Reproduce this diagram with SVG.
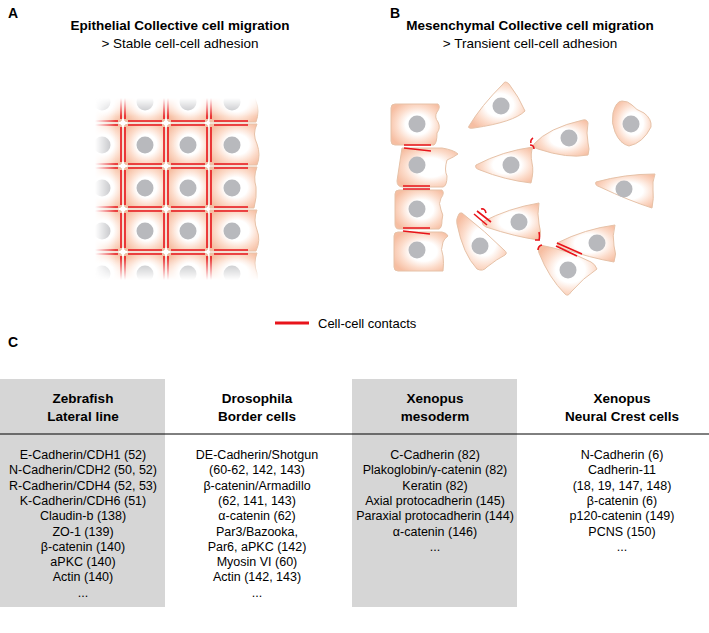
<svg xmlns="http://www.w3.org/2000/svg" width="709" height="633" viewBox="0 0 709 633">
<style>
text{font-family:"Liberation Sans",Arial,sans-serif;fill:#000}
.t{font-size:13.5px;font-weight:bold;text-anchor:middle}
.s{font-size:13.5px;text-anchor:middle}
.h{font-size:13.5px;font-weight:bold;text-anchor:middle}
.i{font-size:12.5px;text-anchor:middle}
.lab{font-size:14px;font-weight:bold}
.cell{fill:url(#cg);stroke:#e6c2a8;stroke-width:1}
.nuc{fill:#b8b9bd}
.ct{stroke:#e8141b;stroke-width:1.6;fill:none}
</style>
<defs>
<radialGradient id="cg" cx="0.55" cy="0.5" r="0.62">
<stop offset="0" stop-color="#fff"/><stop offset="0.4" stop-color="#fff"/><stop offset="0.7" stop-color="#fcdccb"/><stop offset="1" stop-color="#f6bea2"/>
</radialGradient>
<linearGradient id="fx" x1="0" x2="1" y1="0" y2="0"><stop offset="0" stop-color="#000"/><stop offset="0.12" stop-color="#fff"/></linearGradient>
<linearGradient id="fy" x1="0" x2="0" y1="0" y2="1"><stop offset="0" stop-color="#000"/><stop offset="0.1" stop-color="#fff"/><stop offset="0.88" stop-color="#fff"/><stop offset="1" stop-color="#000"/></linearGradient>
<mask id="m1" maskUnits="userSpaceOnUse" x="90" y="95" width="180" height="190"><rect x="95" y="98" width="170" height="182" fill="url(#fy)"/></mask>
<mask id="m2" maskUnits="userSpaceOnUse" x="90" y="95" width="180" height="190"><rect x="95" y="98" width="170" height="182" fill="url(#fx)"/></mask>
</defs>
<rect width="709" height="633" fill="#fff"/>
<text x="8" y="18" class="lab">A</text>
<text x="390" y="18" class="lab">B</text>
<text x="8" y="347" class="lab">C</text>
<text x="180" y="30" class="t">Epithelial Collective cell migration</text>
<text x="180" y="48" class="s">&gt; Stable cell-cell adhesion</text>
<text x="530" y="30" class="t">Mesenchymal Collective cell migration</text>
<text x="530" y="48" class="s">&gt; Transient cell-cell adhesion</text>
<g id="gridA" mask="url(#m1)"><g mask="url(#m2)">
<g id="cellsA">
<rect class="cell" x="80" y="81" width="42" height="41" rx="4"/><rect class="cell" x="124" y="81" width="41" height="41" rx="4"/><rect class="cell" x="167" y="81" width="41" height="41" rx="4"/><path class="cell" d="M210 81h46q-4 10 0 20q4 10 0 21h-46z"/>
<rect class="cell" x="80" y="124" width="42" height="41" rx="4"/><rect class="cell" x="124" y="124" width="41" height="41" rx="4"/><rect class="cell" x="167" y="124" width="41" height="41" rx="4"/><path class="cell" d="M210 124h47q-5 10 0 20q4 11 0 21h-47z"/>
<rect class="cell" x="80" y="167" width="42" height="41" rx="4"/><rect class="cell" x="124" y="167" width="41" height="41" rx="4"/><rect class="cell" x="167" y="167" width="41" height="41" rx="4"/><path class="cell" d="M210 167h47q-4 10 -1 20q1 10 -2 21h-44z"/>
<rect class="cell" x="80" y="210" width="42" height="41" rx="4"/><rect class="cell" x="124" y="210" width="41" height="41" rx="4"/><rect class="cell" x="167" y="210" width="41" height="41" rx="4"/><path class="cell" d="M210 210h47q-4 10 0 20q4 10 -1 21h-46z"/>
<rect class="cell" x="80" y="253" width="42" height="41" rx="4"/><rect class="cell" x="124" y="253" width="41" height="41" rx="4"/><rect class="cell" x="167" y="253" width="41" height="41" rx="4"/><path class="cell" d="M210 253h47q-4 10 0 20q2 10 -1 21h-46z"/>
</g>
<g id="nucA">
<circle class="nuc" cx="102" cy="102" r="8.5"/><circle class="nuc" cx="145" cy="102" r="8.5"/><circle class="nuc" cx="188" cy="102" r="8.5"/><circle class="nuc" cx="232" cy="102" r="8.5"/>
<circle class="nuc" cx="102" cy="145" r="8.5"/><circle class="nuc" cx="145" cy="145" r="8.5"/><circle class="nuc" cx="188" cy="145" r="8.5"/><circle class="nuc" cx="232" cy="145" r="8.5"/>
<circle class="nuc" cx="102" cy="188" r="8.5"/><circle class="nuc" cx="145" cy="188" r="8.5"/><circle class="nuc" cx="188" cy="188" r="8.5"/><circle class="nuc" cx="232" cy="188" r="8.5"/>
<circle class="nuc" cx="102" cy="231" r="8.5"/><circle class="nuc" cx="145" cy="231" r="8.5"/><circle class="nuc" cx="188" cy="231" r="8.5"/><circle class="nuc" cx="232" cy="231" r="8.5"/>
<circle class="nuc" cx="102" cy="274" r="8.5"/><circle class="nuc" cx="145" cy="274" r="8.5"/><circle class="nuc" cx="188" cy="274" r="8.5"/><circle class="nuc" cx="232" cy="274" r="8.5"/>
</g>
<g id="contactsA" class="ct">
<path d="M121 84v35M125 84v35M164 84v35M168 84v35M207 84v35M211 84v35"/>
<path d="M121 127v35M125 127v35M164 127v35M168 127v35M207 127v35M211 127v35"/>
<path d="M121 170v35M125 170v35M164 170v35M168 170v35M207 170v35M211 170v35"/>
<path d="M121 213v35M125 213v35M164 213v35M168 213v35M207 213v35M211 213v35"/>
<path d="M121 256v35M125 256v35M164 256v35M168 256v35M207 256v35M211 256v35"/>
<path d="M84 121h34M84 125h34M128 121h34M128 125h34M171 121h34M171 125h34M214 121h34M214 125h34"/>
<path d="M84 164h34M84 168h34M128 164h34M128 168h34M171 164h34M171 168h34M214 164h34M214 168h34"/>
<path d="M84 207h34M84 211h34M128 207h34M128 211h34M171 207h34M171 211h34M214 207h34M214 211h34"/>
<path d="M84 250h34M84 254h34M128 250h34M128 254h34M171 250h34M171 254h34M214 250h34M214 254h34"/>
</g>
</g></g>
<g id="cellsB">
<g id="b1"><path class="cell" d="M395 104h43q3 3 -1 8q-3 5 1 10q3 6 -1 11q0 10 -3 12h-39q-4 0 -4 -4v-33q0 -4 4 -4z"/><circle class="nuc" cx="417" cy="124" r="8.5"/></g>
<g id="b2"><path class="cell" d="M402 148h40q12 2 16 6q-4 3 -11 6q-3 10 0 16q0 10 -4 11h-40q-6 0 -6 -6z"/><circle class="nuc" cx="417" cy="165" r="8.5"/></g>
<g id="b3"><path class="cell" d="M399 190h43q3 3 -1 8q-3 5 0 12q3 5 1 10q0 8 -3 9h-40q-4 0 -4 -5v-30q0 -4 4 -4z"/><circle class="nuc" cx="417" cy="209" r="8.5"/></g>
<g id="b4"><path class="cell" d="M398 232h44q5 1 6 4q-4 3 -5 6q-3 8 0 14q1 7 0 15h-45q-4 0 -4 -4v-31q0 -4 4 -4z"/><circle class="nuc" cx="417" cy="250" r="8.5"/></g>
<g id="b5"><path class="cell" d="M469 126q-2 3 5 2q40 -6 51 -17q-6 -14 -16 -27q-4 -4 -6 0q-22 22 -34 42z"/><circle class="nuc" cx="501" cy="106" r="8.5"/></g>
<g id="b6"><path class="cell" d="M534 144q-2 3 4 5q30 10 50 6q2 -6 0 -12q-2 -10 0 -20q-1 -4 -5 -3q-35 8 -49 24z"/><circle class="nuc" cx="569" cy="138" r="8.5"/></g>
<g id="b7"><path class="cell" d="M476 165q-2 3 4 5q25 10 51 13q3 -12 1 -20q-2 -10 1 -16q-30 4 -57 18z"/><circle class="nuc" cx="511" cy="165" r="8.5"/></g>
<g id="b8"><path class="cell" d="M622 101q-6 0 -9 12q-2 10 2 19q5 12 14 14q14 -3 22 -19q1 -8 -7 -14q-8 -3 -12 -8q-4 -4 -10 -4z"/><circle class="nuc" cx="631" cy="124" r="8.5"/></g>
<g id="b9"><path class="cell" d="M596 182q-2 3 4 5q30 14 52 21q2 -10 1 -18q-1 -8 2 -16q-30 0 -59 8z"/><circle class="nuc" cx="624" cy="189" r="8.5"/></g>
<g id="b10"><path class="cell" d="M482 222q0 3 4 5q30 10 53 13q3 -8 0 -16q-2 -10 0 -21q-30 5 -57 19z"/><circle class="nuc" cx="519" cy="222" r="8.5"/></g>
<g id="b11"><path class="cell" d="M458 216q-2 3 -1 8q6 30 20 45q6 3 10 -2q10 -8 18 -12q3 -2 -1 -5q-18 -18 -42 -37q-3 -1 -4 3z"/><circle class="nuc" cx="480" cy="246" r="8.5"/></g>
<g id="b12"><path class="cell" d="M557 243q0 3 4 5q30 10 53 14q3 -8 0 -16q-2 -10 1 -21q-30 4 -58 18z"/><circle class="nuc" cx="597" cy="243" r="8.5"/></g>
<g id="b13"><path class="cell" d="M540 245q-3 4 -1 8q10 25 26 41q3 3 6 -2q12 -14 26 -23q-2 -5 -6 -7q-24 -12 -51 -17z"/><circle class="nuc" cx="568" cy="270" r="8.5"/></g>
</g>
<g id="contactsB" class="ct">
<path d="M404 145h27M404 148l27 3M403 186h27M403 189h27M403 228h27M403 231l27 3"/>
<path d="M533 138q-3 2 -2 5M530 145q4 0 4 4M481 209q4 -1 5 4M477 211l14 11M474 214l13 11M539 232q1 5 0 8M535 240h5M542 245q-4 1 -4 5M557 243l25 11M556 246l21 10"/>
</g>
<g id="legend">
<line x1="275" y1="323" x2="309" y2="323" stroke="#e8141b" stroke-width="3"/>
<text x="318" y="328" style="font-size:13px">Cell-cell contacts</text>
</g>
<g id="table">
<rect x="0" y="379" width="165" height="228" fill="#d6d6d6"/>
<rect x="352" y="379" width="165" height="228" fill="#d6d6d6"/>
<line x1="0" y1="434" x2="709" y2="434" stroke="#000" stroke-width="1"/>
<g id="col1"><text x="83" y="403" class="h">Zebrafish</text><text x="83" y="421" class="h">Lateral line</text>
<text class="i"><tspan x="83" y="459">E-Cadherin/CDH1 (52)</tspan><tspan x="83" dy="15.3">N-Cadherin/CDH2 (50, 52)</tspan><tspan x="83" dy="15.3">R-Cadherin/CDH4 (52, 53)</tspan><tspan x="83" dy="15.3">K-Cadherin/CDH6 (51)</tspan><tspan x="83" dy="15.3">Claudin-b (138)</tspan><tspan x="83" dy="15.3">ZO-1 (139)</tspan><tspan x="83" dy="15.3">β-catenin (140)</tspan><tspan x="83" dy="15.3">aPKC (140)</tspan><tspan x="83" dy="15.3">Actin (140)</tspan><tspan x="83" dy="15.3">...</tspan></text></g>
<g id="col2"><text x="257" y="403" class="h">Drosophila</text><text x="257" y="421" class="h">Border cells</text>
<text class="i"><tspan x="257" y="459">DE-Cadherin/Shotgun</tspan><tspan x="257" dy="15.3">(60-62, 142, 143)</tspan><tspan x="257" dy="15.3">β-catenin/Armadillo</tspan><tspan x="257" dy="15.3">(62, 141, 143)</tspan><tspan x="257" dy="15.3">α-catenin (62)</tspan><tspan x="257" dy="15.3">Par3/Bazooka,</tspan><tspan x="257" dy="15.3">Par6, aPKC (142)</tspan><tspan x="257" dy="15.3">Myosin VI (60)</tspan><tspan x="257" dy="15.3">Actin (142, 143)</tspan><tspan x="257" dy="15.3">...</tspan></text></g>
<g id="col3"><text x="435" y="403" class="h">Xenopus</text><text x="435" y="421" class="h">mesoderm</text>
<text class="i"><tspan x="435" y="459">C-Cadherin (82)</tspan><tspan x="435" dy="15.3">Plakoglobin/γ-catenin (82)</tspan><tspan x="435" dy="15.3">Keratin (82)</tspan><tspan x="435" dy="15.3">Axial protocadherin (145)</tspan><tspan x="435" dy="15.3">Paraxial protocadherin (144)</tspan><tspan x="435" dy="15.3">α-catenin (146)</tspan><tspan x="435" dy="15.3">...</tspan></text></g>
<g id="col4"><text x="622" y="403" class="h">Xenopus</text><text x="622" y="421" class="h">Neural Crest cells</text>
<text class="i"><tspan x="622" y="459">N-Cadherin (6)</tspan><tspan x="622" dy="15.3">Cadherin-11</tspan><tspan x="622" dy="15.3">(18, 19, 147, 148)</tspan><tspan x="622" dy="15.3">β-catenin (6)</tspan><tspan x="622" dy="15.3">p120-catenin (149)</tspan><tspan x="622" dy="15.3">PCNS (150)</tspan><tspan x="622" dy="15.3">...</tspan></text></g>
</g>
</svg>
